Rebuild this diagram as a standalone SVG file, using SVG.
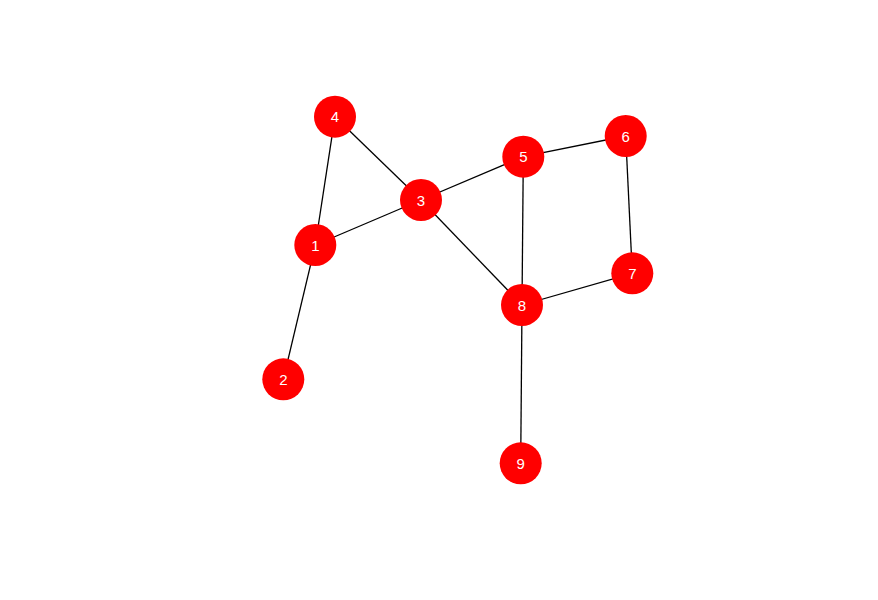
<svg xmlns="http://www.w3.org/2000/svg" width="878" height="600" viewBox="0 0 878 600">
<style>
.e{stroke:#000;stroke-width:1.3;fill:none}
.n circle{fill:#ff0000}
.n text{fill:#fff;font-family:"Liberation Sans",Arial,sans-serif;font-size:15px;text-anchor:middle;dominant-baseline:central}
</style>
<rect width="878" height="600" fill="#fff"/>
<g id="edges">
<line class="e" x1="315.3" y1="245" x2="335" y2="116.7"/>
<line class="e" x1="315.3" y1="245" x2="421" y2="200"/>
<line class="e" x1="315.3" y1="245" x2="283.3" y2="379.3"/>
<line class="e" x1="335" y1="116.7" x2="421" y2="200"/>
<line class="e" x1="421" y1="200" x2="523.3" y2="156.7"/>
<line class="e" x1="421" y1="200" x2="522" y2="305"/>
<line class="e" x1="523.3" y1="156.7" x2="625.7" y2="136"/>
<line class="e" x1="523.3" y1="156.7" x2="522" y2="305"/>
<line class="e" x1="625.7" y1="136" x2="632.3" y2="273.3"/>
<line class="e" x1="632.3" y1="273.3" x2="522" y2="305"/>
<line class="e" x1="522" y1="305" x2="520.7" y2="463.3"/>
</g>
<g id="node1" class="n"><circle cx="315.3" cy="245" r="21"/><text x="315.3" y="245">1</text></g>
<g id="node2" class="n"><circle cx="283.3" cy="379.3" r="21"/><text x="283.3" y="379.3">2</text></g>
<g id="node3" class="n"><circle cx="421" cy="200" r="21"/><text x="421" y="200">3</text></g>
<g id="node4" class="n"><circle cx="335" cy="116.7" r="21"/><text x="335" y="116.7">4</text></g>
<g id="node5" class="n"><circle cx="523.3" cy="156.7" r="21"/><text x="523.3" y="156.7">5</text></g>
<g id="node6" class="n"><circle cx="625.7" cy="136" r="21"/><text x="625.7" y="136">6</text></g>
<g id="node7" class="n"><circle cx="632.3" cy="273.3" r="21"/><text x="632.3" y="273.3">7</text></g>
<g id="node8" class="n"><circle cx="522" cy="305" r="21"/><text x="522" y="305">8</text></g>
<g id="node9" class="n"><circle cx="520.7" cy="463.3" r="21"/><text x="520.7" y="463.3">9</text></g>
</svg>
